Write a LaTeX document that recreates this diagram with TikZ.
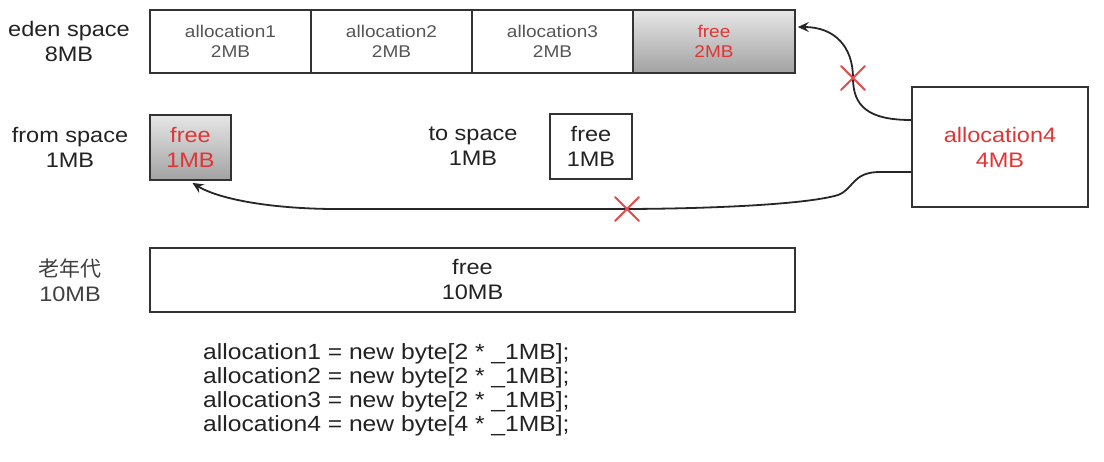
\documentclass[tikz,border=0pt]{standalone}
\usepackage{fontspec}
\setmainfont{Liberation Sans}[FakeStretch=1.12]
\newfontfamily\cjkfont{Noto Sans CJK SC}
\usetikzlibrary{arrows.meta}
\definecolor{boxline}{HTML}{333333}
\definecolor{txt}{HTML}{222222}
\definecolor{celltxt}{HTML}{555555}
\definecolor{redtxt}{HTML}{E03535}
\definecolor{crossred}{HTML}{E84848}
\definecolor{gtop}{HTML}{E6E6E6}
\definecolor{gbot}{HTML}{A2A2A2}
\tikzset{
  cell/.style={draw=boxline, line width=1.6pt, minimum width=161pt, minimum height=63pt,
    inner sep=0pt, align=center, text=celltxt, font=\fontsize{17}{20}\selectfont},
  freecell/.style={cell, top color=gtop, bottom color=gbot, text=redtxt},
  bigtxt/.style={align=center, text=txt, font=\fontsize{21}{25}\selectfont},
  smallbox/.style={draw=boxline, line width=1.8pt, inner sep=0pt, align=center,
    minimum width=81pt, minimum height=65pt, font=\fontsize{21}{25}\selectfont},
  conn/.style={draw=black!85, line width=1.8pt, -{Stealth[length=11pt,width=10pt,inset=4pt]}},
  cross/.style={draw=crossred, line width=2pt, line cap=round}
}
\begin{document}
\begin{tikzpicture}[x=1pt,y=-1pt]
\useasboundingbox (0,0) rectangle (1104,462);
% eden space
\node[bigtxt] (edenlbl) at (69,41) {eden space\\8MB};
\node[cell] (e1) at (230.5,41.5) {allocation1\\2MB};
\node[cell] (e2) at (391.5,41.5) {allocation2\\2MB};
\node[cell] (e3) at (552.5,41.5) {allocation3\\2MB};
\node[freecell, minimum width=162pt] (e4) at (714,41.5) {free\\2MB};
% from space
\node[bigtxt] (fromlbl) at (70,147) {from space\\1MB};
\node[smallbox, top color=gtop, bottom color=gbot, text=redtxt] (from) at (190.5,147.5) {free\\1MB};
% to space
\node[bigtxt] (tolbl) at (473,146) {to space\\1MB};
\node[smallbox, minimum width=82pt, text=txt] (to) at (591,146.5) {free\\1MB};
% allocation4
\node[draw=boxline, line width=1.8pt, minimum width=176pt, minimum height=120pt, inner sep=0pt,
  align=center, text=redtxt, font=\fontsize{21}{25}\selectfont] (a4) at (1000,147) {allocation4\\4MB};
% old generation
\node[bigtxt, text=black!75] (oldlbl) at (70,280) {{\cjkfont 老年代}\\10MB};
\node[draw=boxline, line width=1.6pt, minimum width=645pt, minimum height=64pt, inner sep=0pt,
  align=center, text=txt, font=\fontsize{21}{25}\selectfont] (old) at (472.5,280) {free\\10MB};
% code
\node[anchor=north west, align=left, inner sep=0pt, text=txt,
  font=\fontsize{22}{24}\selectfont] (code) at (203,343) {%
allocation1 = new byte[2 * \_1MB];\\
allocation2 = new byte[2 * \_1MB];\\
allocation3 = new byte[2 * \_1MB];\\
allocation4 = new byte[4 * \_1MB];};
% connectors
\draw[conn] ([yshift=27pt]a4.west) .. controls (868,120) and (853,106) .. (853,78)
  .. controls (853,47) and (835,27) .. ([xshift=2pt,yshift=14.5pt]e4.east);
\draw[conn] ([yshift=-25pt]a4.west) -- (880,172) .. controls (852,172) and (854,189) .. (838,195)
  .. controls (805,205) and (700,209) .. (620,209) -- (330,209)
  .. controls (260,208) and (215,197) .. ([xshift=2pt,yshift=-2pt]from.south);
% crosses
\draw[cross] (841,66) -- (865,90);
\draw[cross] (841,90) -- (865,66);
\draw[cross] (615,197) -- (639,221);
\draw[cross] (615,221) -- (639,197);
\end{tikzpicture}
\end{document}
